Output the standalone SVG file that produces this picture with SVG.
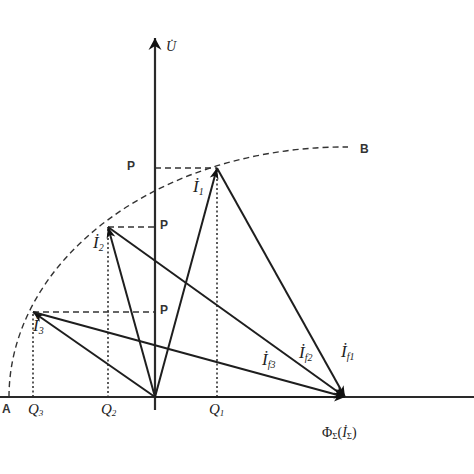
<svg xmlns="http://www.w3.org/2000/svg" width="474" height="474" viewBox="0 0 474 474">
<style>
.ln{stroke:#1e1e1e;stroke-width:2;fill:none}
.ax{stroke:#2a2a2a;stroke-width:2.2;fill:none}
.dash{stroke:#333;stroke-width:1.4;fill:none;stroke-dasharray:6 4}
.dot{stroke:#333;stroke-width:1.6;fill:none;stroke-dasharray:2 2.5}
.it{font-family:"Liberation Serif",serif;font-style:italic;fill:#222}
.up{font-family:"Liberation Serif",serif;font-style:normal;fill:#222}
.sn{font-family:"Liberation Sans",sans-serif;font-weight:bold;fill:#333;font-size:12px}
</style>
<defs>
<marker id="ah" markerUnits="userSpaceOnUse" markerWidth="14" markerHeight="12" viewBox="-12 -6 14 12" refX="0" refY="0" orient="auto">
<path d="M0,0 L-11,-4.5 L-8,0 L-11,4.5 Z" fill="#111"/>
</marker>
<marker id="ahU" markerUnits="userSpaceOnUse" markerWidth="16" markerHeight="14" viewBox="-14 -7 16 14" refX="0" refY="0" orient="auto">
<path d="M0,0 L-12,-6.5 L-8,0 L-12,6.5 Z" fill="#111"/>
</marker>
</defs>
<rect width="474" height="474" fill="#fff"/>
<g id="construction">
<path class="dash" d="M9 397 A336 250 0 0 1 348 147"/>
<line class="dash" x1="155" y1="168" x2="217" y2="168"/>
<line class="dash" x1="108" y1="227" x2="155" y2="227"/>
<line class="dash" x1="33" y1="312" x2="155" y2="312"/>
<line class="dot" x1="217" y1="170" x2="217" y2="397"/>
<line class="dot" x1="108" y1="229" x2="108" y2="397"/>
<line class="dot" x1="33" y1="314" x2="33" y2="397"/>
</g>
<g id="axes">
<line class="ax" x1="0" y1="397" x2="474" y2="397"/>
<line class="ax" x1="155" y1="410" x2="155" y2="38" marker-end="url(#ahU)"/>
</g>
<g id="connectors">
<line class="ln" x1="155" y1="397" x2="345" y2="397" marker-end="url(#ah)"/>
<line class="ln" x1="155" y1="397" x2="217" y2="168" marker-end="url(#ah)"/>
<line class="ln" x1="155" y1="397" x2="108" y2="227" marker-end="url(#ah)"/>
<line class="ln" x1="155" y1="397" x2="33" y2="312" marker-end="url(#ah)"/>
<line class="ln" x1="217" y1="168" x2="345" y2="397" marker-end="url(#ah)"/>
<line class="ln" x1="108" y1="227" x2="345" y2="397" marker-end="url(#ah)"/>
<line class="ln" x1="33" y1="312" x2="345" y2="397" marker-end="url(#ah)"/>
</g>
<g id="labels">
<text class="it" x="166" y="51" font-size="14">U̇</text>
<text class="sn" x="127" y="170">P</text>
<text class="sn" x="160" y="229">P</text>
<text class="sn" x="160" y="314">P</text>
<text class="sn" x="360" y="153">B</text>
<text class="sn" x="2" y="413">A</text>
<text class="it" x="193" y="192" font-size="17">İ<tspan font-size="10" dy="3">1</tspan></text>
<text class="it" x="93" y="248" font-size="17">İ<tspan font-size="10" dy="3">2</tspan></text>
<text class="it" x="33" y="331" font-size="17">İ<tspan font-size="10" dy="3">3</tspan></text>
<text class="it" x="262" y="365" font-size="17">İ<tspan font-size="10" dy="3">f3</tspan></text>
<text class="it" x="299" y="358" font-size="17">İ<tspan font-size="10" dy="3">f2</tspan></text>
<text class="it" x="341" y="357" font-size="17">İ<tspan font-size="10" dy="3">f1</tspan></text>
<text class="it" x="28" y="414" font-size="15">Q<tspan font-size="9" dy="2">3</tspan></text>
<text class="it" x="101" y="414" font-size="15">Q<tspan font-size="9" dy="2">2</tspan></text>
<text class="it" x="209" y="414" font-size="15">Q<tspan font-size="9" dy="2">1</tspan></text>
<text class="up" x="322" y="437" font-size="14">Φ<tspan font-size="9" dy="2">Σ</tspan><tspan dy="-2">(</tspan><tspan style="font-style:italic">İ</tspan><tspan font-size="9" dy="2">Σ</tspan><tspan dy="-2">)</tspan></text>
</g>
</svg>
